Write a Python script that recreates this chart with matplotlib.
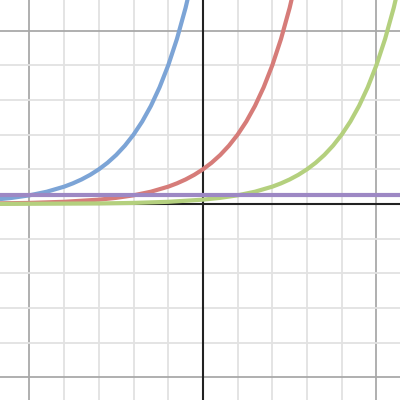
import matplotlib
matplotlib.use('Agg')
import matplotlib.pyplot as plt
from matplotlib.ticker import MultipleLocator

# curves (x, y in graph units)
red_x = [-6, -5, -4, -3, -2.5, -2, -1.5, -1, -0.75, -0.5, -0.25, 0, 0.25, 0.5,
         0.75, 1, 1.25, 1.5, 1.75, 2, 2.25, 2.5, 2.75]
red_y = [0.016, 0.031, 0.063, 0.125, 0.177, 0.25, 0.354, 0.5, 0.595, 0.707, 0.841,
         1.0, 1.189, 1.414, 1.682, 2.0, 2.378, 2.828, 3.364, 4.0, 4.757, 5.657, 6.727]

blue_x = [-6, -5.5, -5, -4.5, -4, -3.75, -3.5, -3.25, -3, -2.75, -2.5, -2.25, -2,
          -1.75, -1.5, -1.25, -1, -0.75, -0.5, -0.25]
blue_y = [0.125, 0.177, 0.25, 0.354, 0.5, 0.595, 0.707, 0.841, 1.0, 1.189, 1.414,
          1.682, 2.0, 2.378, 2.828, 3.364, 4.0, 4.757, 5.657, 6.727]

green_x = [-6, -3, -2, -1, 0, 0.5, 1, 1.5, 2, 2.25, 2.5, 2.75, 3, 3.25, 3.5, 3.75,
           4, 4.25, 4.5, 4.75, 5, 5.25, 5.5, 5.75]
green_y = [0.002, 0.016, 0.031, 0.063, 0.125, 0.177, 0.25, 0.354, 0.5, 0.595, 0.707,
           0.841, 1.0, 1.189, 1.414, 1.682, 2.0, 2.378, 2.828, 3.364, 4.0, 4.757,
           5.657, 6.727]

purple_x = [-6, 6]
purple_y = [0.25, 0.25]

fig = plt.figure(figsize=(4, 4), dpi=100)
ax = fig.add_axes([0, 0, 1, 1])

ax.set_xlim(-5.85, 5.68)
ax.set_ylim(-5.65, 5.88)

ax.xaxis.set_major_locator(MultipleLocator(5))
ax.xaxis.set_minor_locator(MultipleLocator(1))
ax.yaxis.set_major_locator(MultipleLocator(5))
ax.yaxis.set_minor_locator(MultipleLocator(1))
ax.grid(which='minor', color='#e2e2e2', linewidth=1.3)
ax.grid(which='major', color='#a9a9a9', linewidth=1.3)
ax.tick_params(which='both', length=0, labelbottom=False, labelleft=False)
for s in ax.spines.values():
    s.set_visible(False)

ax.axhline(0, color='#222222', linewidth=1.5, zorder=2)
ax.axvline(0, color='#222222', linewidth=1.5, zorder=2)

ax.plot(blue_x, blue_y, color='#7ca4d6', linewidth=3, solid_capstyle='round', zorder=3)
ax.plot(red_x, red_y, color='#d67c79', linewidth=3, solid_capstyle='round', zorder=3)
ax.plot(green_x, green_y, color='#b4d07e', linewidth=3, solid_capstyle='round', zorder=3)
ax.plot(purple_x, purple_y, color='#9d88c4', linewidth=3, zorder=3)

fig.savefig('out.png', dpi=100)
